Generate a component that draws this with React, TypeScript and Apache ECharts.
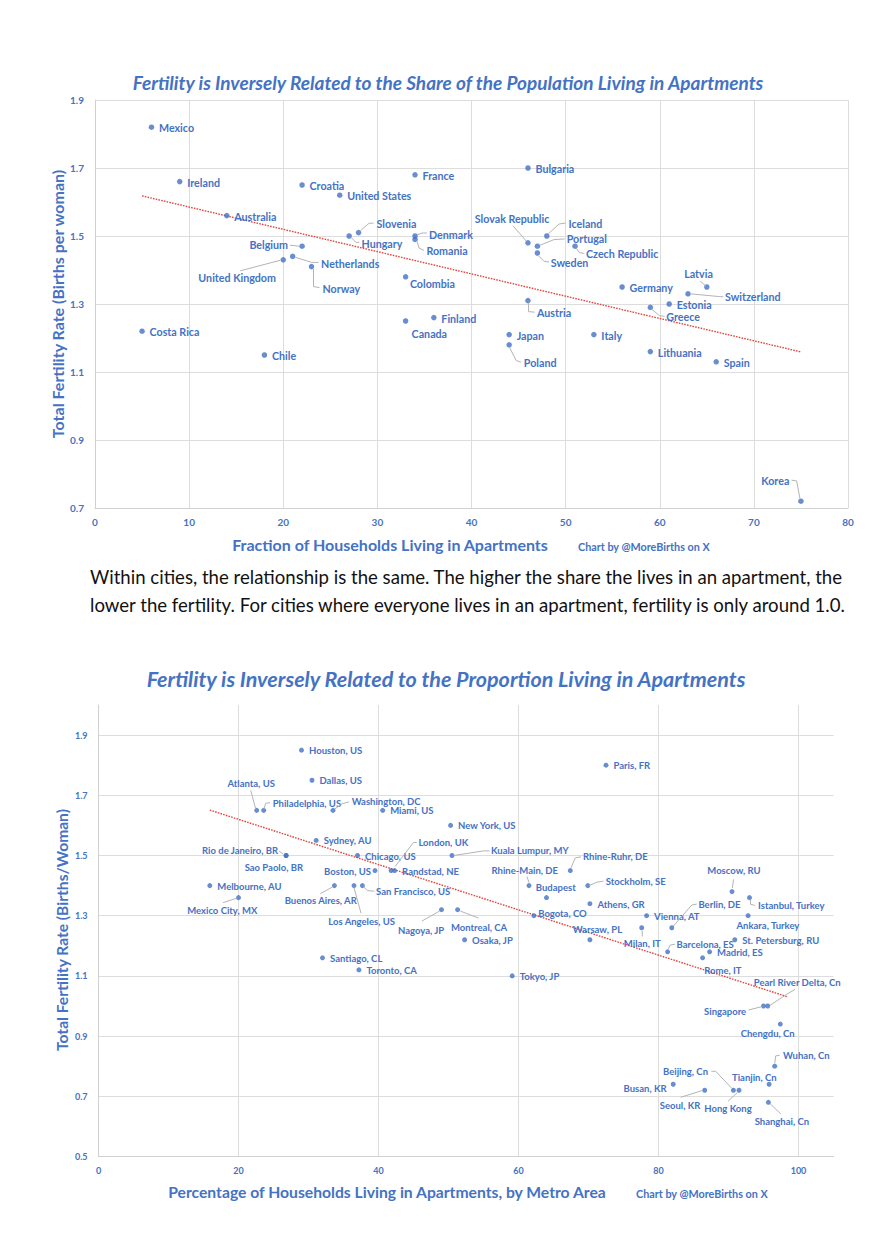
import React, { useEffect, useRef } from 'react';
import * as echarts from 'echarts';

// ---- Country data: share of households in apartments (%) vs total fertility rate
const countries = [
  'Mexico', 'Ireland', 'Australia', 'Croatia', 'United States', 'France', 'Bulgaria',
  'Slovenia', 'Hungary', 'Denmark', 'Romania', 'Belgium', 'Netherlands', 'United Kingdom',
  'Norway', 'Colombia', 'Slovak Republic', 'Iceland', 'Portugal', 'Sweden', 'Czech Republic',
  'Germany', 'Latvia', 'Switzerland', 'Estonia', 'Greece', 'Austria', 'Costa Rica', 'Chile',
  'Canada', 'Finland', 'Japan', 'Poland', 'Italy', 'Lithuania', 'Spain', 'Korea',
];
const countryShare = [
  6, 9, 14, 22, 26, 34, 46,
  28, 27, 34, 34, 22, 21, 20,
  23, 33, 46, 48, 47, 47, 51,
  56, 65, 63, 61, 59, 46, 5, 18,
  33, 36, 44, 44, 53, 59, 66, 75,
];
const countryTfr = [
  1.82, 1.66, 1.56, 1.65, 1.62, 1.68, 1.70,
  1.51, 1.50, 1.50, 1.49, 1.47, 1.44, 1.43,
  1.41, 1.38, 1.48, 1.50, 1.47, 1.45, 1.47,
  1.35, 1.35, 1.33, 1.30, 1.29, 1.31, 1.22, 1.15,
  1.25, 1.26, 1.21, 1.18, 1.21, 1.16, 1.13, 0.72,
];
// Linear trend line end points [share, tfr]
const countryTrend = [[5, 1.618], [75, 1.159]];

// ---- Metro data: share of households in apartments (%) vs total fertility rate
const cities = [
  'Houston, US', 'Dallas, US', 'Atlanta, US', 'Philadelphia, US', 'Washington, DC', 'Miami, US',
  'New York, US', 'Sydney, AU', 'Rio de Janeiro, BR', 'Sao Paolo, BR', 'Chicago, US',
  'Kuala Lumpur, MY', 'Boston, US', 'London, UK', 'Randstad, NE', 'Rhine-Ruhr, DE',
  'Rhine-Main, DE', 'Melbourne, AU', 'Buenos Aires, AR', 'Los Angeles, US', 'San Francisco, US',
  'Stockholm, SE', 'Budapest', 'Mexico City, MX', 'Moscow, RU', 'Istanbul, Turkey', 'Athens, GR',
  'Nagoya, JP', 'Montreal, CA', 'Bogota, CO', 'Vienna, AT', 'Ankara, Turkey', 'Milan, IT',
  'Berlin, DE', 'Warsaw, PL', 'Osaka, JP', 'St. Petersburg, RU', 'Barcelona, ES', 'Madrid, ES',
  'Rome, IT', 'Santiago, CL', 'Toronto, CA', 'Tokyo, JP', 'Paris, FR', 'Singapore',
  'Pearl River Delta, Cn', 'Chengdu, Cn', 'Wuhan, Cn', 'Tianjin, Cn', 'Busan, KR', 'Beijing, Cn',
  'Hong Kong', 'Seoul, KR', 'Shanghai, Cn',
];
const cityShare = [
  29, 30.5, 22.6, 23.6, 33.5, 40.6,
  50.3, 31.1, 26.8, 26.8, 37.0,
  50.5, 39.5, 41.8, 42.3, 67.4,
  61.5, 15.9, 33.7, 36.5, 37.7,
  69.9, 64.0, 20.0, 90.5, 93.0, 70.2,
  49.0, 51.3, 62.2, 78.3, 92.8, 77.6,
  81.9, 70.2, 52.3, 90.9, 81.3, 87.3,
  86.3, 32.0, 37.2, 59.1, 72.5, 95.0,
  95.6, 97.4, 96.6, 95.8, 82.1, 90.7,
  91.5, 86.6, 95.7,
];
const cityTfr = [
  1.85, 1.75, 1.65, 1.65, 1.65, 1.65,
  1.60, 1.55, 1.50, 1.50, 1.50,
  1.50, 1.45, 1.45, 1.45, 1.45,
  1.40, 1.40, 1.40, 1.40, 1.40,
  1.40, 1.36, 1.36, 1.38, 1.36, 1.34,
  1.32, 1.32, 1.30, 1.30, 1.30, 1.26,
  1.26, 1.22, 1.22, 1.22, 1.18, 1.18,
  1.16, 1.16, 1.12, 1.10, 1.80, 1.00,
  1.00, 0.94, 0.80, 0.74, 0.74, 0.72,
  0.72, 0.72, 0.68,
];
const cityTrend = [[15.9, 1.651], [98.5, 1.03]];

// Axis ranges [min, max, interval]
const countryXAxis = [0, 80, 10];
const countryYAxis = [0.7, 1.9, 0.2];
const cityXAxis = [0, 105, 20];
const cityYAxis = [0.5, 2.0, 0.2];

// ---- Label placement: [dx, dy, align, leader polyline] relative to the marker (px)
type Place = [number, number, 'left' | 'right' | 'center', number[][]?];

const countryLabelPlace: Record<string, Place> = {
  'Slovenia': [18, -9.4, 'left', [[2, -2], [10.6, -9.4], [15, -9.4]]],
  'Hungary': [12.4, 7, 'left', [[2, 1.4], [6.7, 6.4], [10, 6.4]]],
  'Denmark': [14, -2, 'left', [[2, -1], [7, -3], [12, -3]]],
  'Romania': [11.4, 11, 'left', [[2, 2], [4, 8.7], [9, 11]]],
  'Belgium': [-14, -1.4, 'right', [[-12, -1], [-3, 0]]],
  'Netherlands': [28.4, 6.6, 'left', [[3, 1], [19, 6], [26, 6]]],
  'United Kingdom': [-7.3, 18, 'right', [[-43, 11], [-3, 0.5]]],
  'Norway': [11, 21.6, 'left', [[2, 2], [2, 20], [8, 21]]],
  'Colombia': [4.3, 6.6, 'left'],
  'Slovak Republic': [-15.9, -24.7, 'center', [[-15, -17], [-1.7, -1.7]]],
  'Iceland': [21.7, -13, 'left', [[1.3, -2], [12.3, -12], [19, -13]]],
  'Portugal': [29.3, -7.3, 'left', [[2.6, -1], [16.6, -6.6], [27.3, -7.3]]],
  'Sweden': [13.3, 9.3, 'left', [[0.6, 2.3], [6.6, 8.3], [11.6, 9]]],
  'Czech Republic': [11, 7.4, 'left', [[1, 1.7], [4.3, 6.3], [9.3, 7.3]]],
  'Latvia': [-8.3, -14, 'center', [[-6.7, -6], [-1, -1]]],
  'Switzerland': [37, 2.7, 'left', [[2, 0], [30.4, 2.7], [35.4, 3]]],
  'Greece': [16, 9.3, 'left', [[1, 1.6], [9.3, 8.3], [14.3, 9]]],
  'Austria': [9, 11.6, 'left', [[0.6, 2], [0.6, 11], [6.6, 11.6]]],
  'Poland': [14.7, 18, 'left', [[0.3, 2.4], [7, 15.7], [12, 17.4]]],
  'Korea': [-11.6, -20.3, 'right', [[-9.3, -21], [-4.3, -20.3], [-1, -2.7]]],
  'Canada': [6, 12, 'left'],
};

const cityLabelPlace: Record<string, Place> = {
  'Atlanta, US': [-5.5, -27, 'center', [[-6, -20], [-1, -1.6]]],
  'Philadelphia, US': [9, -7, 'left', [[0.3, -1.6], [2, -7], [6.3, -7.6]]],
  'Washington, DC': [18.7, -8.6, 'left', [[16, -8.5], [9, -6.5], [2, -1.5]]],
  'Rio de Janeiro, BR': [-8, -4.6, 'right', [[-7, -4.5], [-3, -1.5]]],
  'Sao Paolo, BR': [17, 12, 'right'],
  'Boston, US': [-4, 1, 'right'],
  'London, UK': [27.3, -28, 'left', [[25.7, -28], [22.3, -28], [4, -4]]],
  'Buenos Aires, AR': [22.4, 15.3, 'right', [[-14, 8], [-2, 1.5]]],
  'Los Angeles, US': [7.7, 36, 'center', [[0, 2], [7, 27.6]]],
  'San Francisco, US': [13.7, 6.3, 'left', [[1, 1], [5, 5], [12, 5.6]]],
  'Mexico City, MX': [-16.2, 13.3, 'center', [[-15.4, 5], [-2, 0.6]]],
  'Nagoya, JP': [2.7, 20.7, 'right', [[-19.6, 11.4], [-2, 1.4]]],
  'Montreal, CA': [-6.6, 17.4, 'left', [[2.7, 1.4], [21, 8.4]]],
  'Kuala Lumpur, MY': [39, -4.6, 'left', [[1.6, 0], [31.6, -4.6], [37.6, -4.6]]],
  'Rhine-Ruhr, DE': [12.7, -14, 'left', [[0.7, -2.7], [5, -12.7], [10.7, -13.7]]],
  'Rhine-Main, DE': [29, -14.7, 'right', [[-2, -9], [0, -3]]],
  'Budapest': [-10.7, -10, 'left'],
  'Stockholm, SE': [18, -4.4, 'left', [[1.3, 0], [9, -3.4], [15.6, -4.4]]],
  'Bogota, CO': [4.3, -2.5, 'left'],
  'Warsaw, PL': [7.5, -10, 'center'],
  'Milan, IT': [0.6, 15.6, 'center', [[0.6, 3], [0.6, 8.7]]],
  'Berlin, DE': [26.6, -23.4, 'left', [[1.6, -1.7], [20, -22.7], [25, -23.7]]],
  'Barcelona, ES': [9, -7.7, 'left', [[0.6, -2.3], [2.3, -6.6], [7.3, -7.6]]],
  'Rome, IT': [1.6, 12.3, 'left'],
  'Ankara, Turkey': [-11.6, 9.3, 'left'],
  'Moscow, RU': [2, -21, 'center', [[1.6, -12.3], [0.3, -3.6]]],
  'Istanbul, Turkey': [8.6, 8, 'left', [[1, 2], [1, 6.7], [5.3, 7.7]]],
  'Pearl River Delta, Cn': [73, -23.4, 'right', [[2.3, -0.7], [19, -11.7], [27.3, -16.7]]],
  'Singapore': [-17.3, 5, 'right', [[-15, 4], [-1.6, 0.6]]],
  'Chengdu, Cn': [-12.6, 9.3, 'center'],
  'Wuhan, Cn': [8.3, -10.3, 'left', [[0, -2.7], [1, -10.3], [5, -11]]],
  'Tianjin, Cn': [-14.8, -6.6, 'center'],
  'Beijing, Cn': [-25.4, -18.4, 'right', [[-22, -19], [-17.7, -19], [-2, -2.4]]],
  'Hong Kong': [-11, 18, 'center', [[-11, 11], [-2, 2.6]]],
  'Busan, KR': [-6.6, 4, 'right'],
  'Seoul, KR': [-4.3, 15, 'right', [[-24, 7], [-2.6, 0.3]]],
  'Shanghai, Cn': [13.5, 19.6, 'center', [[1.7, 1.3], [12.4, 11.6]]],
};

const BLUE = '#4472C4';
const GRID = '#DDDDDD';
const LEADER = '#B4B4B4';
const TREND = '#E2463F';
const FONT = 'Lato, "Noto Sans", sans-serif';

function axisPair(gi: number, xr: number[], yr: number[], fontSize: number, hideMax: boolean) {
  const label = { color: BLUE, fontWeight: 'bold' as const, fontSize, fontFamily: FONT };
  const x = {
    gridIndex: gi, type: 'value', min: xr[0], max: xr[1], interval: xr[2],
    axisLine: { show: true, lineStyle: { color: '#D0D0D0' } },
    axisTick: { show: false },
    axisLabel: { ...label, margin: 9, showMaxLabel: !hideMax },
    splitLine: { show: true, showMaxLine: !hideMax, lineStyle: { color: GRID, width: 1 } },
  };
  const y = {
    gridIndex: gi, type: 'value', min: yr[0], max: yr[1], interval: yr[2],
    axisLine: { show: true, lineStyle: { color: '#D0D0D0' } },
    axisTick: { show: false },
    axisLabel: { ...label, margin: 11, showMaxLabel: !hideMax, formatter: (v: number) => v.toFixed(1) },
    splitLine: { show: true, showMaxLine: !hideMax, lineStyle: { color: GRID, width: 1 } },
  };
  return { x, y };
}

function labelSeries(gi: number, names: string[], xs: number[], ys: number[], place: Record<string, Place>, fontSize: number) {
  return {
    type: 'custom',
    xAxisIndex: gi,
    yAxisIndex: gi,
    silent: true,
    clip: false,
    z: 5,
    data: xs.map((x, i) => [x, ys[i], i]),
    encode: { x: 0, y: 1 },
    renderItem: (_params: any, api: any) => {
      const i = api.value(2);
      const p = api.coord([api.value(0), api.value(1)]);
      const name = names[i];
      const pl: Place = place[name] || [7.5, 0.5, 'left'];
      const children: any[] = [];
      if (pl[3]) {
        children.push({
          type: 'polyline',
          shape: { points: pl[3].map((q) => [p[0] + q[0], p[1] + q[1]]) },
          style: { stroke: LEADER, lineWidth: 1, fill: null },
        });
      }
      children.push({
        type: 'text',
        style: {
          text: name,
          x: p[0] + pl[0],
          y: p[1] + pl[1],
          align: pl[2],
          verticalAlign: 'middle',
          fill: BLUE,
          fontSize,
          fontWeight: 'bold',
          fontFamily: FONT,
        },
      });
      return { type: 'group', children };
    },
  };
}

function scatter(gi: number, xs: number[], ys: number[], size: number) {
  return {
    type: 'scatter',
    xAxisIndex: gi,
    yAxisIndex: gi,
    symbolSize: size,
    itemStyle: { color: BLUE },
    z: 4,
    data: xs.map((x, i) => [x, ys[i]]),
  };
}

function trendSeries(gi: number, pts: number[][]) {
  return {
    type: 'line',
    xAxisIndex: gi,
    yAxisIndex: gi,
    symbol: 'none',
    silent: true,
    z: 3,
    lineStyle: { color: TREND, width: 1.4, type: [1.6, 1.2] },
    data: pts,
  };
}

function text(x: number, y: number, t: string, style: any, rotation = 0) {
  return {
    type: 'text',
    x,
    y,
    rotation,
    style: { text: t, fontFamily: FONT, verticalAlign: 'middle', ...style },
  };
}

export default function App() {
  const ref = useRef<HTMLDivElement>(null);

  useEffect(() => {
    if (!ref.current) return;
    const chart = echarts.init(ref.current, null, { renderer: 'svg' });
    const a0 = axisPair(0, countryXAxis, countryYAxis, 10, false);
    const a1 = axisPair(1, cityXAxis, cityYAxis, 9, true);

    chart.setOption({
      animation: false,
      backgroundColor: '#ffffff',
      grid: [
        { left: 95, top: 100, width: 753, height: 408 },
        { left: 98.5, top: 705, width: 735, height: 451.5 },
      ],
      xAxis: [a0.x, a1.x],
      yAxis: [a0.y, a1.y],
      series: [
        trendSeries(0, countryTrend),
        scatter(0, countryShare, countryTfr, 5.5),
        labelSeries(0, countries, countryShare, countryTfr, countryLabelPlace, 10.7),
        trendSeries(1, cityTrend),
        scatter(1, cityShare, cityTfr, 5),
        labelSeries(1, cities, cityShare, cityTfr, cityLabelPlace, 9.5),
      ],
      graphic: [
        text(448, 82, 'Fertility is Inversely Related to the Share of the Population Living in Apartments', {
          align: 'center', fill: BLUE, fontSize: 19, fontWeight: 'bold', fontStyle: 'italic',
        }),
        text(57, 304, 'Total Fertility Rate (Births per woman)', {
          align: 'center', fill: BLUE, fontSize: 16, fontWeight: 'bold',
        }, Math.PI / 2),
        text(390, 544, 'Fraction of Households Living in Apartments', {
          align: 'center', fill: BLUE, fontSize: 16, fontWeight: 'bold',
        }),
        text(578, 546, 'Chart by @MoreBirths on X', {
          align: 'left', fill: BLUE, fontSize: 10.8, fontWeight: 'bold',
        }),
        text(90, 577, 'Within cities, the relationship is the same. The higher the share the lives in an apartment, the', {
          align: 'left', fill: '#111111', fontSize: 18.6,
        }),
        text(90, 605, 'lower the fertility. For cities where everyone lives in an apartment, fertility is only around 1.0.', {
          align: 'left', fill: '#111111', fontSize: 18.6,
        }),
        text(446, 679, 'Fertility is Inversely Related to the Proportion Living in Apartments', {
          align: 'center', fill: BLUE, fontSize: 21.5, fontWeight: 'bold', fontStyle: 'italic',
        }),
        text(62, 930, 'Total Fertility Rate (Births/Woman)', {
          align: 'center', fill: BLUE, fontSize: 15.6, fontWeight: 'bold',
        }, Math.PI / 2),
        text(387, 1192, 'Percentage of Households Living in Apartments, by Metro Area', {
          align: 'center', fill: BLUE, fontSize: 15.7, fontWeight: 'bold',
        }),
        text(636, 1193, 'Chart by @MoreBirths on X', {
          align: 'left', fill: BLUE, fontSize: 10.8, fontWeight: 'bold',
        }),
      ],
    });
    return () => chart.dispose();
  }, []);

  return (
    <div
      ref={ref}
      style={{ position: 'absolute', left: 0, top: 0, width: 880, height: 1242, background: '#ffffff' }}
    />
  );
}
